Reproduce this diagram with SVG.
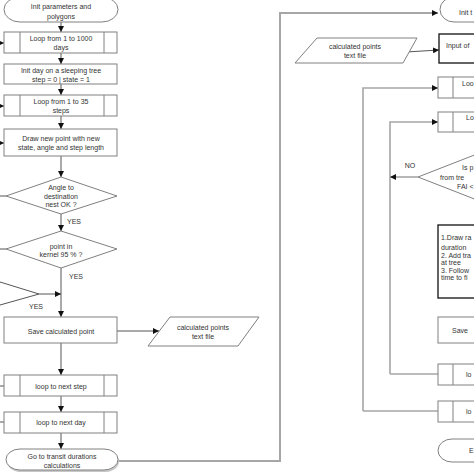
<svg xmlns="http://www.w3.org/2000/svg" width="474" height="474" viewBox="0 0 474 474">
<defs>
<marker id="ar" markerUnits="userSpaceOnUse" markerWidth="6" markerHeight="6" refX="6" refY="3" orient="auto"><path d="M0,0 L6,3 L0,6 z" fill="#111"/></marker>
<style>
.box{fill:#fff;stroke:#808080;stroke-width:1}
.dk{fill:#fff;stroke:#222;stroke-width:1.4}
.t{font-family:"Liberation Sans",Arial,sans-serif;font-size:7px;fill:#333;text-anchor:middle}
.s{text-anchor:start}
.c{fill:none;stroke:#555;stroke-width:1}
.g{fill:none;stroke:#a6a6a6;stroke-width:1.6}
.gt{fill:none;stroke:#a6a6a6;stroke-width:2}
.in{stroke:#808080;stroke-width:1}
</style>
</defs>
<rect width="474" height="474" fill="#fff"/>
<g id="connectors">
<path class="c" d="M61,22 V32" marker-end="url(#ar)"/>
<path class="c" d="M61,53 V64" marker-end="url(#ar)"/>
<path class="c" d="M61,84 V95" marker-end="url(#ar)"/>
<path class="c" d="M61,116 V129" marker-end="url(#ar)"/>
<path class="c" d="M61,156 V177" marker-end="url(#ar)"/>
<path class="c" d="M61,214 V231" marker-end="url(#ar)"/>
<path class="c" d="M61,268 V317" marker-end="url(#ar)"/>
<path class="c" d="M39,294 H61" marker-end="url(#ar)"/>
<path class="c" d="M61,343 V375" marker-end="url(#ar)"/>
<path class="c" d="M61,396 V412" marker-end="url(#ar)"/>
<path class="c" d="M61,433 V449" marker-end="url(#ar)"/>
<path class="c" d="M117,331 H159" marker-end="url(#ar)"/>
<path class="c" d="M0,43 H4" marker-end="url(#ar)"/>
<path class="c" d="M0,106 H4" marker-end="url(#ar)"/>
<path class="c" d="M0,143 H4" marker-end="url(#ar)"/>
<path class="c" d="M0,196 H6 M0,249 H6 M0,386 H4 M0,422 H4"/>
<path class="c" d="M0,282 L39,294 L0,305"/>
<path class="gt" d="M118,461 H280 V13 H438" marker-end="url(#ar)"/>
<path class="c" d="M406,52 L439,50" marker-end="url(#ar)"/>
<path class="g" d="M363,411 V88 H438" marker-end="url(#ar)"/>
<path class="g" d="M390,374 V122 H438" marker-end="url(#ar)"/>
<path class="g" d="M418,177 H390" marker-end="url(#ar)"/>
<path class="g" d="M390,374 H438 M363,411 H438"/>
<text class="t" x="74" y="223.5">YES</text>
<text class="t" x="76" y="278.5">YES</text>
<text class="t" x="36" y="308.5">YES</text>
<text class="t" x="410" y="168">NO</text>
</g>
<g id="init">
<rect class="box" x="4" y="-3" width="114" height="25" rx="16" ry="12.5"/>
<text class="t" x="61" y="8.5">Init parameters and</text>
<text class="t" x="61" y="18.5">polygons</text>
</g>
<g id="loop-days">
<rect class="box" x="4" y="32" width="113" height="21"/>
<path class="in" d="M20,32 V53 M104,32 V53"/>
<text class="t" x="61" y="40.5">Loop from 1 to 1000</text>
<text class="t" x="61" y="49.5">days</text>
</g>
<g id="init-day">
<rect class="box" x="4" y="64" width="113" height="20"/>
<text class="t" x="61" y="72.5">Init day on a sleeping tree</text>
<text class="t" x="61" y="81.5">step = 0 | state = 1</text>
</g>
<g id="loop-steps">
<rect class="box" x="4" y="95" width="113" height="21"/>
<path class="in" d="M20,95 V116 M104,95 V116"/>
<text class="t" x="61" y="103.5">Loop from 1 to 35</text>
<text class="t" x="61" y="112.5">steps</text>
</g>
<g id="draw-point">
<rect class="box" x="4" y="129" width="113" height="27"/>
<text class="t" x="61" y="140.5">Draw new point with new</text>
<text class="t" x="61" y="149.5">state, angle and step length</text>
</g>
<g id="angle">
<polygon class="box" points="61,177 117,196 61,214 6,196"/>
<text class="t" x="61" y="189.5">Angle to</text>
<text class="t" x="61" y="198.5">destination</text>
<text class="t" x="61" y="207">nest OK ?</text>
</g>
<g id="kernel">
<polygon class="box" points="61,231 117,249 61,268 6,249"/>
<text class="t" x="61" y="248.5">point in</text>
<text class="t" x="61" y="257">kernel 95 % ?</text>
</g>
<g id="save">
<rect class="box" x="4" y="317" width="113" height="26"/>
<text class="t" x="61" y="333.5">Save calculated point</text>
</g>
<g id="points-file">
<polygon class="box" points="170,317 259,317 238,346 148,346"/>
<text class="t" x="203" y="329.5">calculated points</text>
<text class="t" x="203" y="338.5">text file</text>
</g>
<g id="next-step">
<rect class="box" x="4" y="375" width="113" height="21"/>
<path class="in" d="M20,375 V396 M104,375 V396"/>
<text class="t" x="61" y="388.5">loop to next step</text>
</g>
<g id="next-day">
<rect class="box" x="4" y="412" width="113" height="21"/>
<path class="in" d="M20,412 V433 M104,412 V433"/>
<text class="t" x="61" y="424.5">loop  to next day</text>
</g>
<g id="goto-transit">
<rect x="7" y="451" width="112" height="21" rx="14" ry="10.5" fill="#c8c8c8"/>
<rect class="box" x="6" y="449" width="112" height="21" rx="14" ry="10.5"/>
<text class="t" x="62" y="458.5">Go to transit durations</text>
<text class="t" x="62" y="468">calculations</text>
</g>
<g id="init-transit">
<rect class="box" x="440" y="-3" width="70" height="25" rx="14" ry="12.5"/>
<text class="t s" x="459" y="15">Init t</text>
</g>
<g id="points-file-in">
<polygon class="box" points="317,38 417,38 403,63 295,63"/>
<text class="t" x="355" y="48.5">calculated points</text>
<text class="t" x="355" y="57.5">text file</text>
</g>
<g id="input">
<rect class="dk" x="439" y="34" width="60" height="29"/>
<text class="t s" x="446" y="47.5">Input of</text>
</g>
<g id="loop-r1">
<rect class="box" x="438" y="77" width="60" height="21"/>
<path class="in" d="M453,77 V98"/>
<text class="t s" x="462" y="86">Loo</text>
</g>
<g id="loop-r2">
<rect class="box" x="438" y="112" width="60" height="20"/>
<path class="in" d="M453,112 V132"/>
<text class="t s" x="466" y="120">Lo</text>
</g>
<g id="decision-r">
<polygon class="box" points="418,177 518,138 618,177 518,216"/>
<text class="t s" x="462" y="169.5">Is p</text>
<text class="t s" x="440" y="179.5">from tre</text>
<text class="t s" x="457" y="188.5">FAI &lt;</text>
</g>
<g id="steps-r">
<rect class="dk" x="438" y="225" width="60" height="73"/>
<text class="t s" x="441" y="240">1.Draw ra</text>
<text class="t s" x="441" y="249.5">duration</text>
<text class="t s" x="441" y="257.5">2.  Add tra</text>
<text class="t s" x="441" y="264.5">at tree</text>
<text class="t s" x="441" y="272.5">3. Follow</text>
<text class="t s" x="441" y="279.5">time to fi</text>
</g>
<g id="save-r">
<rect class="box" x="438" y="317" width="60" height="26"/>
<text class="t s" x="452" y="332.5">Save</text>
</g>
<g id="loop-r3">
<rect class="box" x="438" y="364" width="60" height="21"/>
<path class="in" d="M453,364 V385"/>
<text class="t s" x="466" y="376.5">lo</text>
</g>
<g id="loop-r4">
<rect class="box" x="438" y="401" width="60" height="21"/>
<path class="in" d="M453,401 V422"/>
<text class="t s" x="466" y="413.5">lo</text>
</g>
<g id="end-r">
<rect class="box" x="438" y="439" width="70" height="23" rx="14" ry="11.5"/>
<text class="t s" x="469" y="453">E</text>
</g>
</svg>
